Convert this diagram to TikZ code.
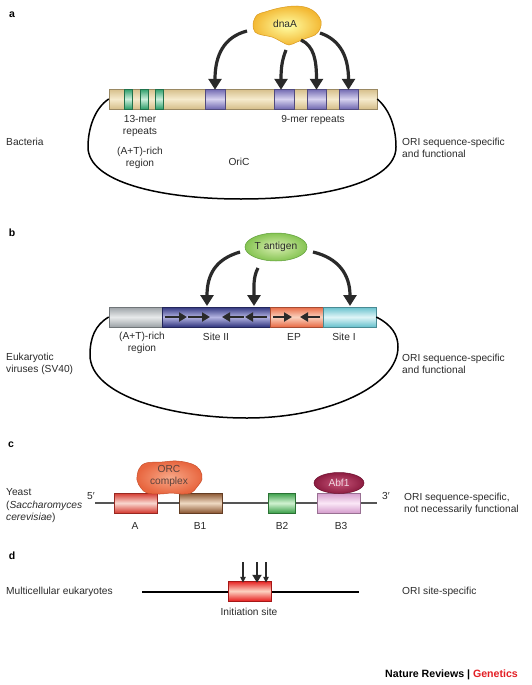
\documentclass[tikz,border=0pt]{standalone}
\usepackage{fontspec}
\setmainfont{Liberation Sans}
\usetikzlibrary{arrows.meta,shapes.geometric}
\definecolor{txt}{HTML}{2B2B2B}
\definecolor{arr}{HTML}{2A2A2A}
\definecolor{natred}{HTML}{E31E24}
\definecolor{tanE}{HTML}{D6BE8A}\definecolor{tanM}{HTML}{F5EBCD}
\definecolor{grnE}{HTML}{2E9E6A}\definecolor{grnM}{HTML}{CBEFDC}
\definecolor{purE}{HTML}{7068B0}\definecolor{purM}{HTML}{D6D2EF}
\definecolor{gryE}{HTML}{9CA2A6}\definecolor{gryM}{HTML}{E8EAEB}
\definecolor{bluE}{HTML}{30357E}\definecolor{bluM}{HTML}{B4B4E2}
\definecolor{orgE}{HTML}{E86A45}\definecolor{orgM}{HTML}{FAD2BE}
\definecolor{cyaE}{HTML}{66C0CC}\definecolor{cyaM}{HTML}{DFF5F7}
\definecolor{redE}{HTML}{D4382E}\definecolor{redM}{HTML}{F9D8D0}
\definecolor{brnE}{HTML}{8A5530}\definecolor{brnM}{HTML}{EFDAC3}
\definecolor{gr2E}{HTML}{3A9E48}\definecolor{gr2M}{HTML}{D2F3D2}
\definecolor{pnkE}{HTML}{D49CCC}\definecolor{pnkM}{HTML}{FBE8F7}
\definecolor{iniE}{HTML}{E61E1E}\definecolor{iniM}{HTML}{FDD2C2}
\tikzset{
  lbl/.style={font=\fontsize{10.2}{12.5}\selectfont, text=txt, inner sep=0pt},
  plab/.style={font=\bfseries\fontsize{10.5}{12}\selectfont, text=black, inner sep=0pt},
  seg/.style 2 args={top color=#1, bottom color=#1, middle color=#2, draw=#1!72!black,
    line width=0.5pt, inner sep=0pt, minimum height=20pt},
  bigarr/.style={draw=arr, line width=3.2pt, -{Triangle[width=13pt,length=11pt]}},
  smarr/.style={draw=arr, line width=2.3pt, -{Triangle[width=9pt,length=8pt]}},
  looppath/.style={draw=black, line width=1.5pt},
}
\begin{document}
\begin{tikzpicture}[x=1pt,y=-1pt]
\fill[white] (0,0) rectangle (531,685);
\useasboundingbox (0,0) rectangle (531,685);

% ---------------- panel a ----------------
\node[plab] (la) at (12,15) {a};
\node[seg={tanE}{tanM}, minimum width=268pt] (bara) at (243,99) {};
\draw[looppath] (bara.west) .. controls (95,108) and (88,128) .. (88,147)
  .. controls (88,182) and (160,199) .. (241,199)
  .. controls (325,199) and (396,182) .. (396,147)
  .. controls (396,128) and (390,110) .. (bara.east);
\node[seg={grnE}{grnM}, minimum width=8pt] (ga1) at (128,99) {};
\node[seg={grnE}{grnM}, minimum width=8pt] (ga2) at (144,99) {};
\node[seg={grnE}{grnM}, minimum width=8pt] (ga3) at (159,99) {};
\node[seg={purE}{purM}, minimum width=20pt] (pa1) at (215,99) {};
\node[seg={purE}{purM}, minimum width=20pt] (pa2) at (284,99) {};
\node[seg={purE}{purM}, minimum width=19pt] (pa3) at (316.5,99) {};
\node[seg={purE}{purM}, minimum width=19pt] (pa4) at (348.5,99) {};

\shadedraw[inner color=yellow!35!white, outer color={rgb,255:red,243;green,184;blue,51}, draw={rgb,255:red,217;green,154;blue,30}, line width=0.5pt]
  plot[smooth cycle, tension=0.6] coordinates {(253,24) (257,15) (265,12) (275,9) (285,7) (297,6) (308,8) (316,13) (321,21) (320,29) (315,35) (307,38) (297,42) (289,45) (282,42) (272,37) (262,35) (255,32)};
\node[lbl] (dnaA) at (285,24) {dnaA};
\coordinate (da1) at (247,31);
\coordinate (da2) at (286,50);
\coordinate (da3) at (301,40);
\coordinate (da4) at (320,33);
\draw[bigarr] (da1) .. controls (224,37) and (215,55) .. ([yshift=-1pt]pa1.north);
\draw[bigarr] (da2) .. controls (282,60) and (281,68) .. ([xshift=-3pt,yshift=-1pt]pa2.north);
\draw[bigarr] (da3) .. controls (314,46) and (316.5,60) .. ([yshift=-1pt]pa3.north);
\draw[bigarr] (da4) .. controls (341,40) and (348.5,58) .. ([yshift=-1pt]pa4.north);

\node[lbl, align=center] (t13) at (140,126) {13-mer\\repeats};
\node[lbl, align=center] (tata) at (140,158) {(A+T)-rich\\region};
\node[lbl] (toric) at (239,162) {OriC};
\node[lbl] (t9) at (313,120) {9-mer repeats};
\node[lbl, anchor=west] (tbac) at (6,142) {Bacteria};
\node[lbl, anchor=west, align=left] (tora) at (402,148) {ORI sequence-specific\\and functional};

% ---------------- panel b ----------------
\node[plab] (lb) at (12,233) {b};
\node[seg={gryE}{gryM}, minimum width=53pt] (gb) at (135.5,317) {};
\node[seg={bluE}{bluM}, minimum width=108pt] (bb) at (216,317) {};
\node[seg={orgE}{orgM}, minimum width=53pt] (ob) at (296.5,317) {};
\node[seg={cyaE}{cyaM}, minimum width=53pt] (cb) at (349.5,317) {};
\draw[looppath] (gb.west) .. controls (95,325) and (90,338) .. (90,355)
  .. controls (90,395) and (170,418) .. (247,418)
  .. controls (330,418) and (398,385) .. (398,347)
  .. controls (398,335) and (392,325) .. (cb.east);
\coordinate (s1a) at (165,317); \coordinate (s1b) at (187,317);
\coordinate (s2a) at (188,317); \coordinate (s2b) at (210,317);
\coordinate (s3a) at (244,317); \coordinate (s3b) at (222,317);
\coordinate (s4a) at (267,317); \coordinate (s4b) at (245,317);
\coordinate (s5a) at (273,317); \coordinate (s5b) at (292,317);
\coordinate (s6a) at (320,317); \coordinate (s6b) at (300,317);
\draw[smarr] (s1a) -- (s1b);
\draw[smarr] (s2a) -- (s2b);
\draw[smarr] (s3a) -- (s3b);
\draw[smarr] (s4a) -- (s4b);
\draw[smarr] (s5a) -- (s5b);
\draw[smarr] (s6a) -- (s6b);

\node[ellipse, minimum width=62pt, minimum height=28pt, inner sep=0pt,
  inner color={rgb,255:red,216;green,238;blue,176}, outer color={rgb,255:red,134;green,196;blue,83},
  draw={rgb,255:red,94;green,158;blue,56}, line width=0.5pt, font=\fontsize{10.2}{12}\selectfont, text=txt] (tag) at (276,247) {T antigen};
\coordinate (tb1) at (240,252);
\coordinate (tb2) at (258,268);
\coordinate (tb3) at (313,252);
\coordinate (tipb1) at (207,306);
\coordinate (tipb2) at (254,306);
\coordinate (tipb3) at (350,306);
\draw[bigarr] (tb1) .. controls (216,259) and (207,274) .. (tipb1);
\draw[bigarr] (tb2) .. controls (253,277) and (254,288) .. (tipb2);
\draw[bigarr] (tb3) .. controls (338,258) and (350,274) .. (tipb3);

\node[lbl, align=center] (tatb) at (142,343) {(A+T)-rich\\region};
\node[lbl] (tsII) at (216,337) {Site II};
\node[lbl] (tep) at (294,337) {EP};
\node[lbl] (tsI) at (344,337) {Site I};
\node[lbl, anchor=west, align=left] (teuk) at (6,364) {Eukaryotic\\viruses (SV40)};
\node[lbl, anchor=west, align=left] (torb) at (402,364) {ORI sequence-specific\\and functional};

% ---------------- panel c ----------------
\node[plab] (lc) at (11,445) {c};
\coordinate (c5) at (95,503);
\coordinate (c3) at (377,503);
\draw[draw={rgb,255:red,85;green,85;blue,85}, line width=1.4pt] (c5) -- (c3);
\node[lbl] (t5) at (91,496) {5′};
\node[lbl] (t3) at (386,496) {3′};
\node[seg={redE}{redM}, minimum width=43pt] (boxA) at (135.5,503) {};
\node[seg={brnE}{brnM}, minimum width=43pt] (boxB1) at (200.5,503) {};
\node[seg={gr2E}{gr2M}, minimum width=27pt] (boxB2) at (281.5,503) {};
\node[seg={pnkE}{pnkM}, minimum width=43pt] (boxB3) at (339,503) {};
\shadedraw[inner color={rgb,255:red,247;green,168;blue,136}, outer color={rgb,255:red,232;green,102;blue,63}, draw={rgb,255:red,200;green,78;blue,42}, line width=0.5pt]
  plot[smooth cycle, tension=0.6] coordinates {(139,469) (146,463) (162,462) (177,461) (192,464) (200,470) (202,479) (197,487) (191,493) (181,494) (172,493) (160,494) (147,493) (141,488) (137,480)};
\node[lbl, align=center, text={rgb,255:red,90;green,66;blue,60}] (orc) at (169,476) {ORC\\complex};
\node[ellipse, minimum width=50pt, minimum height=21pt, inner sep=0pt,
  inner color={rgb,255:red,198;green,84;blue,120}, outer color={rgb,255:red,140;green,28;blue,64},
  draw={rgb,255:red,110;green,16;blue,48}, line width=0.5pt, font=\fontsize{10.2}{12}\selectfont,
  text={rgb,255:red,240;green,215;blue,225}] (abf) at (339,483) {Abf1};
\node[lbl] (tA) at (135,526) {A};
\node[lbl] (tB1) at (200,526) {B1};
\node[lbl] (tB2) at (282,526) {B2};
\node[lbl] (tB3) at (341,526) {B3};
\node[lbl, anchor=west, align=left] (tyeast) at (6,506) {Yeast\\(\textit{Saccharomyces}\\\textit{cerevisiae})};
\node[lbl, anchor=west, align=left] (torc) at (404,504) {ORI sequence-specific,\\not necessarily functional};

% ---------------- panel d ----------------
\node[plab] (ld) at (12,556) {d};
\coordinate (dl) at (142,592);
\coordinate (dr) at (359,592);
\draw[draw=black, line width=1.3pt] (dl) -- (dr);
\node[seg={iniE}{iniM}, minimum width=43pt] (ini) at (249.5,591) {};
\coordinate (ar1) at (243,562);
\coordinate (ar2) at (257,562);
\coordinate (ar3) at (266,562);
\draw[draw=arr, line width=1.1pt, -{Triangle[width=5.5pt,length=6pt]}] (ar1) -- ([shift={(-6.5pt,-2pt)}]ini.north);
\draw[draw=arr, line width=2.2pt, -{Triangle[width=9pt,length=8pt]}] (ar2) -- ([shift={(7.5pt,-2pt)}]ini.north);
\draw[draw=arr, line width=1.1pt, -{Triangle[width=5.5pt,length=6pt]}] (ar3) -- ([shift={(16.5pt,-2pt)}]ini.north);
\node[lbl] (tini) at (249,612) {Initiation site};
\node[lbl, anchor=west] (tmul) at (6,592) {Multicellular eukaryotes};
\node[lbl, anchor=west] (tord) at (402,592) {ORI site-specific};

\node[font=\bfseries\fontsize{10.6}{12}\selectfont, anchor=east, inner sep=0pt, text=black] (nr) at (518,675) {Nature Reviews | \textcolor{natred}{Genetics}};
\end{tikzpicture}
\end{document}
